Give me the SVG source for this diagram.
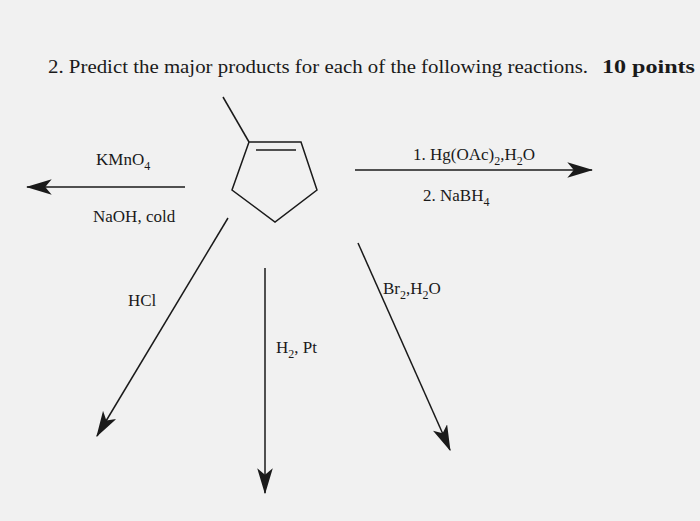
<svg xmlns="http://www.w3.org/2000/svg" width="700" height="521" viewBox="0 0 700 521">
<defs>
<style>
text{font-family:"Liberation Serif","Times New Roman",serif;font-size:17px;fill:#1a1a1a}
.l{stroke:#1a1a1a;stroke-width:1.5;fill:none}
</style>
<marker id="ab" viewBox="0 0 20 12" refX="19" refY="6" markerWidth="26" markerHeight="16" markerUnits="userSpaceOnUse" orient="auto"><path d="M0,0 L20,6 L0,12 L5,6 z" fill="#1a1a1a"/></marker>
</defs>
<rect width="700" height="521" fill="#f1f1f1"/>
<text x="48" y="73" font-size="19" style="font-size:19px" textLength="540" lengthAdjust="spacingAndGlyphs">2.   Predict the major products for each of the following reactions.</text>
<text x="602" y="73" style="font-size:19px;font-weight:bold" textLength="93" lengthAdjust="spacingAndGlyphs">10 points</text>
<g id="molecule" class="l">
<path d="M249,142 L301,142 L317,190 L275,222 L232,190 Z"/>
<path d="M256,150 L296,150"/>
<path d="M223,97 L249,142"/>
</g>
<g id="connectors" class="l">
<path d="M185,187 L27,187" marker-end="url(#ab)"/>
<path d="M355,170 L592,170" marker-end="url(#ab)"/>
<path d="M228,218 L97,436" marker-end="url(#ab)"/>
<path d="M265,268 L265,493" marker-end="url(#ab)"/>
<path d="M358,243 L450,450" marker-end="url(#ab)"/>
</g>
<g id="labels">
<text x="96" y="165">KMnO<tspan font-size="12" dy="5">4</tspan></text>
<text x="93" y="222">NaOH, cold</text>
<text x="413" y="160">1. Hg(OAc)<tspan font-size="12" dy="5">2</tspan><tspan dy="-5">,H</tspan><tspan font-size="12" dy="5">2</tspan><tspan dy="-5">O</tspan></text>
<text x="423" y="201">2. NaBH<tspan font-size="12" dy="5">4</tspan></text>
<text x="128" y="306">HCl</text>
<text x="383" y="294">Br<tspan font-size="12" dy="5">2</tspan><tspan dy="-5">,H</tspan><tspan font-size="12" dy="5">2</tspan><tspan dy="-5">O</tspan></text>
<text x="276" y="353">H<tspan font-size="12" dy="5">2</tspan><tspan dy="-5">, Pt</tspan></text>
</g>
</svg>
